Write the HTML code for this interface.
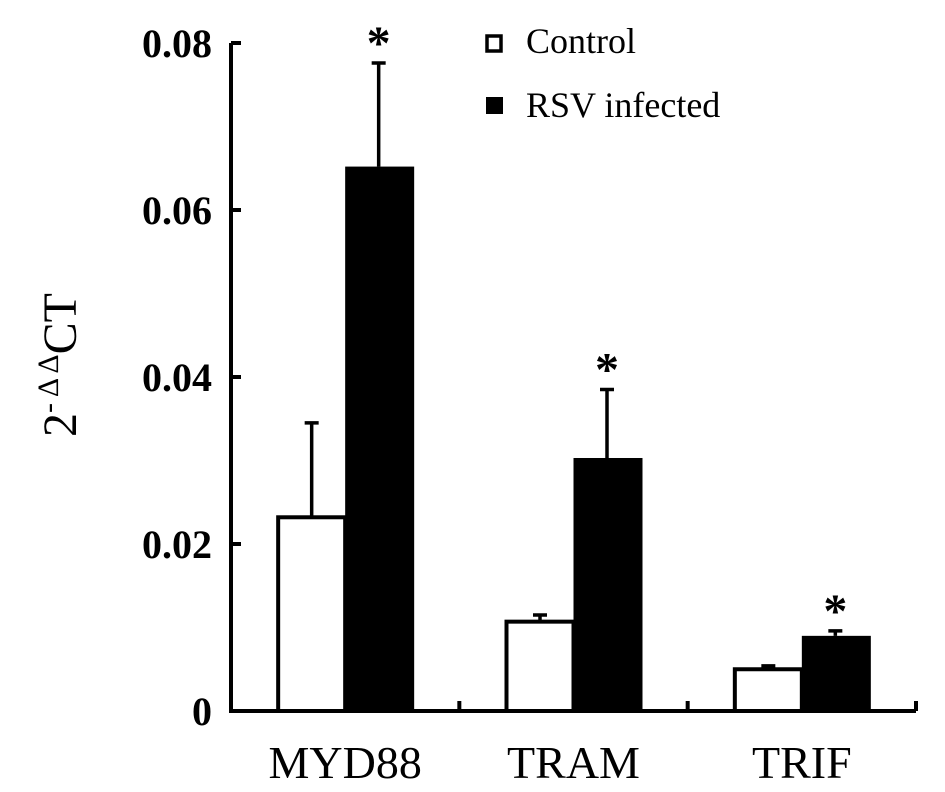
<!DOCTYPE html>
<html><head><meta charset="utf-8"><style>
html,body{margin:0;padding:0;background:#fff;}
svg{display:block;font-family:"Liberation Serif",serif;}
</style></head><body>
<svg id="chart" width="945" height="792" viewBox="0 0 945 792">
<g id="axes"></g><g id="bars"></g>
<text transform="translate(76,365) rotate(-90)" text-anchor="middle" font-size="48">2<tspan dy="-18" font-size="30">- Δ Δ</tspan><tspan dy="18">CT</tspan></text>
<g>
<rect x="487" y="36" width="14" height="15" fill="#fff" stroke="#000" stroke-width="3.5"/>
<text x="526" y="53" font-size="36">Control</text>
<rect x="486" y="97" width="17" height="17" fill="#000"/>
<text x="526" y="117" font-size="36">RSV infected</text>
</g>
</svg>
<script>
const categories=["MYD88","TRAM","TRIF"];
const controlVals=[0.0232,0.0107,0.0050];
const controlErrTop=[0.0345,0.0115,0.0054];
const rsvVals=[0.0652,0.0303,0.0090];
const rsvErrTop=[0.0776,0.0385,0.0096];
const sig=[true,true,true];
const yTicks=[0,0.02,0.04,0.06,0.08];
const yTickLabels=["0","0.02","0.04","0.06","0.08"];

const NS="http://www.w3.org/2000/svg";
const X0=231,X1=916,Y0=711,Y1=43,YMAX=0.08;
const band=(X1-X0)/categories.length;
const y=v=>Y0-(v/YMAX)*(Y0-Y1);
const bx=i=>X0+i*band;
const axes=document.getElementById('axes'),bars=document.getElementById('bars');
function mk(tag,at,par){const e=document.createElementNS(NS,tag);for(const k in at)e.setAttribute(k,at[k]);par.appendChild(e);return e;}

const ya=mk('line',{x1:X0,y1:Y1,x2:X0,y2:Y0+2,stroke:'#000','stroke-width':4},axes);


const xa=mk('line',{x1:X0-2,y1:Y0,x2:X1,y2:Y0,stroke:'#000','stroke-width':4},axes);



yTicks.forEach((t,i)=>{
  const tk=mk('line',{x1:X0,y1:y(t),x2:X0+10,y2:y(t),stroke:'#000','stroke-width':4},axes);
  
  
  const tl=mk('text',{x:212,y:y(t)+14,'text-anchor':'end','font-size':40,'font-weight':'bold'},axes);
  tl.textContent=yTickLabels[i];
  
  
});
for(let i=1;i<=categories.length;i++){
  const tk=mk('line',{x1:bx(i),y1:Y0,x2:bx(i),y2:Y0-10,stroke:'#000','stroke-width':4},axes);
  
  
}
const bw=67;
categories.forEach((c,i)=>{
  const cx=bx(i)+band/2;
  const r1=mk('rect',{x:cx-bw,y:y(controlVals[i]),width:bw,height:Y0-y(controlVals[i]),fill:'#fff',stroke:'#000','stroke-width':4},bars);
  
  
  const e1=mk('path',{d:`M${cx-bw/2},${y(controlVals[i])} V${y(controlErrTop[i])} M${cx-bw/2-7},${y(controlErrTop[i])} H${cx-bw/2+7}`,stroke:'#000','stroke-width':3.5,fill:'none'},bars);
  
  
  const r2=mk('rect',{x:cx,y:y(rsvVals[i]),width:bw+2,height:Y0-y(rsvVals[i]),fill:'#000'},bars);
  
  
  const e2=mk('path',{d:`M${cx+bw/2},${y(rsvVals[i])} V${y(rsvErrTop[i])} M${cx+bw/2-7},${y(rsvErrTop[i])} H${cx+bw/2+7}`,stroke:'#000','stroke-width':3.5,fill:'none'},bars);
  
  
  if(sig[i]){
    const s=mk('text',{x:cx+bw/2,y:y(rsvErrTop[i])-4,'text-anchor':'middle','font-size':48,'font-weight':'bold'},bars);
    s.textContent='*';
    
    
  }
  const l=mk('text',{x:cx,y:778,'text-anchor':'middle','font-size':46},axes);
  l.textContent=c;
  
  
});
</script>
</body></html>
